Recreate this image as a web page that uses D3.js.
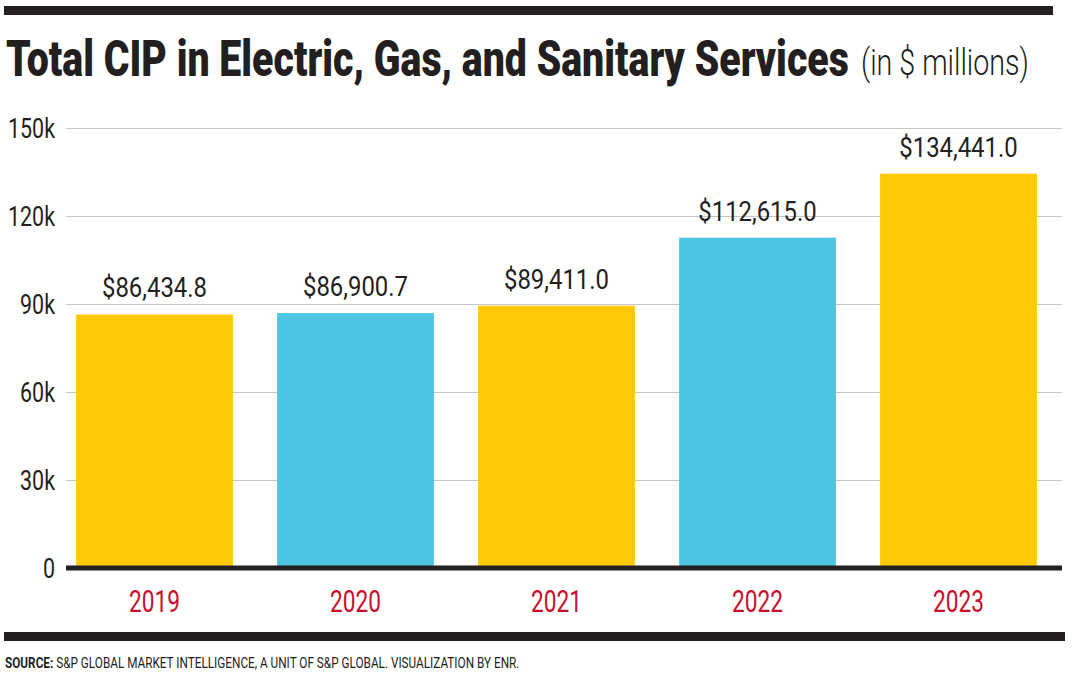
<!DOCTYPE html>
<html>
<head>
<meta charset="utf-8">
<script src="https://cdn.jsdelivr.net/npm/d3@7"></script>
<style>
  body { margin: 0; background: #fff; }
  svg text { font-family: "Roboto", "Liberation Sans", sans-serif; }
</style>
</head>
<body>
<div id="chart"></div>
<script>
// chart data
const years = ['2019', '2020', '2021', '2022', '2023'];
const values = [86434.8, 86900.7, 89411.0, 112615.0, 134441.0];
const barColors = ['#fdc909', '#4bc5e2', '#fdc909', '#4bc5e2', '#fdc909'];
const yTicks = [0, 30000, 60000, 90000, 120000, 150000];
const yTickLabels = ['0', '30k', '60k', '90k', '120k', '150k'];

const W = 1077, H = 674;
const ink = '#231f20';

const svg = d3.select('#chart')
  .append('svg')
  .attr('width', W)
  .attr('height', H);

// squeeze text horizontally so it looks like the condensed face in the original
function condense(sel, refIndex, targetWidth) {
  const nodes = sel.nodes();
  const sx = targetWidth / nodes[refIndex].getComputedTextLength();
  nodes.forEach(el => {
    const x = +el.getAttribute('x') || 0;
    el.setAttribute('transform', `translate(${x},0) scale(${sx},1) translate(${-x},0)`);
  });
}

// top and bottom rules
svg.append('rect').attr('x', 4).attr('y', 6).attr('width', 1049).attr('height', 9).attr('fill', ink);
svg.append('rect').attr('x', 4).attr('y', 632).attr('width', 1061).attr('height', 9).attr('fill', ink);

// title
const title = svg.append('text')
  .attr('x', 6)
  .attr('y', 76)
  .style('font-weight', 900)
  .style('font-size', '50px')
  .attr('fill', ink)
  .text('Total CIP in Electric, Gas, and Sanitary Services');
condense(title, 0, 843);

const sub = svg.append('text')
  .attr('x', 861)
  .attr('y', 75)
  .style('font-weight', 300)
  .style('font-size', '37px')
  .attr('fill', ink)
  .text('(in $ millions)');
condense(sub, 0, 168);

const left = 66, right = 1062;

const y = d3.scaleLinear()
  .domain([0, 150000])
  .range([568, 128]);

const x = d3.scaleBand()
  .domain(years)
  .range([54, 1059])
  .paddingInner(0.22)
  .paddingOuter(0.11);

// gridlines + y tick labels
const yAxis = svg.append('g')
  .attr('transform', `translate(${left},0)`)
  .call(d3.axisLeft(y)
    .tickValues(yTicks)
    .tickSize(-(right - left))
    .tickPadding(11)
    .tickFormat((d, i) => yTickLabels[i]));

yAxis.select('.domain').remove();
yAxis.selectAll('.tick line').attr('stroke', '#c6c6c6').attr('stroke-width', 1);
const yLabels = yAxis.selectAll('.tick text')
  .attr('fill', ink)
  .style('font-family', '"Roboto", sans-serif')
  .style('font-size', '27px')
  .attr('dy', '0.36em');
condense(yLabels, 5, 47);

// bars
svg.selectAll('.bar')
  .data(values)
  .enter()
  .append('rect')
  .attr('x', (d, i) => x(years[i]))
  .attr('y', d => y(d))
  .attr('width', x.bandwidth())
  .attr('height', d => y(0) - y(d))
  .attr('fill', (d, i) => barColors[i]);

// value labels
const valLabels = svg.selectAll('.val')
  .data(values)
  .enter()
  .append('text')
  .attr('x', (d, i) => x(years[i]) + x.bandwidth() / 2)
  .attr('y', d => y(d) - 17)
  .attr('text-anchor', 'middle')
  .attr('fill', ink)
  .style('font-size', '27px')
  .text(d => '$' + d3.format(',.1f')(d));
condense(valLabels, 0, 105);

// zero line
svg.append('line')
  .attr('x1', left).attr('x2', right)
  .attr('y1', y(0)).attr('y2', y(0))
  .attr('stroke', ink)
  .attr('stroke-width', 5);

// x axis labels
const xAxis = svg.append('g')
  .attr('transform', `translate(0,${y(0)})`)
  .call(d3.axisBottom(x).tickSize(0).tickPadding(22));
xAxis.select('.domain').remove();
const xLabels = xAxis.selectAll('.tick text')
  .attr('fill', '#c8102e')
  .style('font-family', '"Roboto", sans-serif')
  .style('font-size', '31px');
condense(xLabels, 0, 51);

// source
const src = svg.append('text')
  .attr('x', 5)
  .attr('y', 668)
  .attr('fill', ink)
  .style('font-size', '15px');
src.append('tspan').style('font-weight', 'bold').text('SOURCE: ');
src.append('tspan').text('S&P GLOBAL MARKET INTELLIGENCE, A UNIT OF S&P GLOBAL. VISUALIZATION BY ENR.');
condense(src, 0, 515);
</script>
</body>
</html>
